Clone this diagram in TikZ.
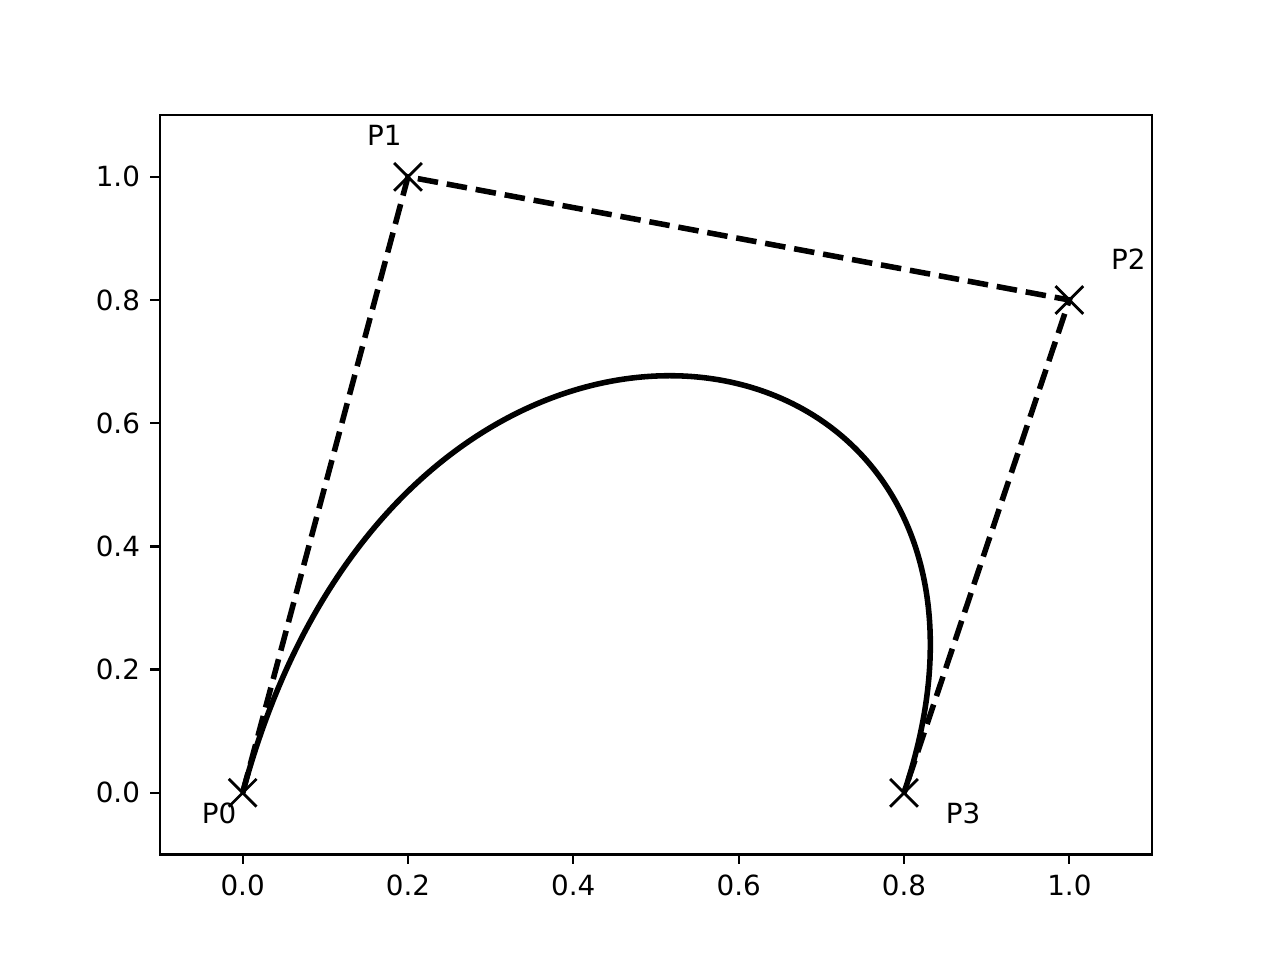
\documentclass[tikz,border=0pt]{standalone}
\usepackage{fontspec}
\setmainfont{DejaVu Sans}
\usetikzlibrary{shapes.misc}
\begin{document}
\begin{tikzpicture}[
  marker/.style={cross out, draw, line width=1pt, minimum size=10pt, inner sep=0pt, outer sep=0pt},
  ctrl/.style={line width=2pt, dash pattern=on 7.4pt off 3.2pt},
  curvel/.style={line width=2pt},
  lbl/.style={anchor=base west, inner sep=0pt, font=\fontsize{10}{12}\selectfont},
  ticklbl/.style={inner sep=0pt, font=\fontsize{10}{12}\selectfont},
  spine/.style={line width=0.8pt}
]
\useasboundingbox (0,0) rectangle (460.8pt,345.6pt);
\begin{scope}[shift={(87.36pt,60.192pt)}, x=297.6pt, y=221.76pt]
  % axes frame
  \draw[spine] (-0.1,-0.1) rectangle (1.1,1.1);
  % ticks
  \foreach \t in {0.0,0.2,0.4,0.6,0.8,1.0} {
    \draw[spine] (\t,-0.1) -- ++(0,-3.5pt);
    \node[ticklbl, anchor=north] at ([yshift=-7pt]\t,-0.1) {\t};
    \draw[spine] (-0.1,\t) -- ++(-3.5pt,0);
    \node[ticklbl, anchor=east] at ([xshift=-7pt]-0.1,\t) {\t};
  }
  % control points
  \node[marker] (p0) at (0,0) {};
  \node[marker] (p1) at (0.2,1) {};
  \node[marker] (p2) at (1,0.8) {};
  \node[marker] (p3) at (0.8,0) {};
  % curve
  \draw[curvel] (p0.center) .. controls (p1.center) and (p2.center) .. (p3.center);
  % control polygon
  \draw[ctrl] (p0.center) -- (p1.center) -- (p2.center) -- (p3.center);
  % labels
  \node[lbl] (l0) at (-0.05,-0.05) {P0};
  \node[lbl] (l1) at (0.15,1.05) {P1};
  \node[lbl] (l2) at (1.05,0.85) {P2};
  \node[lbl] (l3) at (0.85,-0.05) {P3};
\end{scope}
\end{tikzpicture}
\end{document}
